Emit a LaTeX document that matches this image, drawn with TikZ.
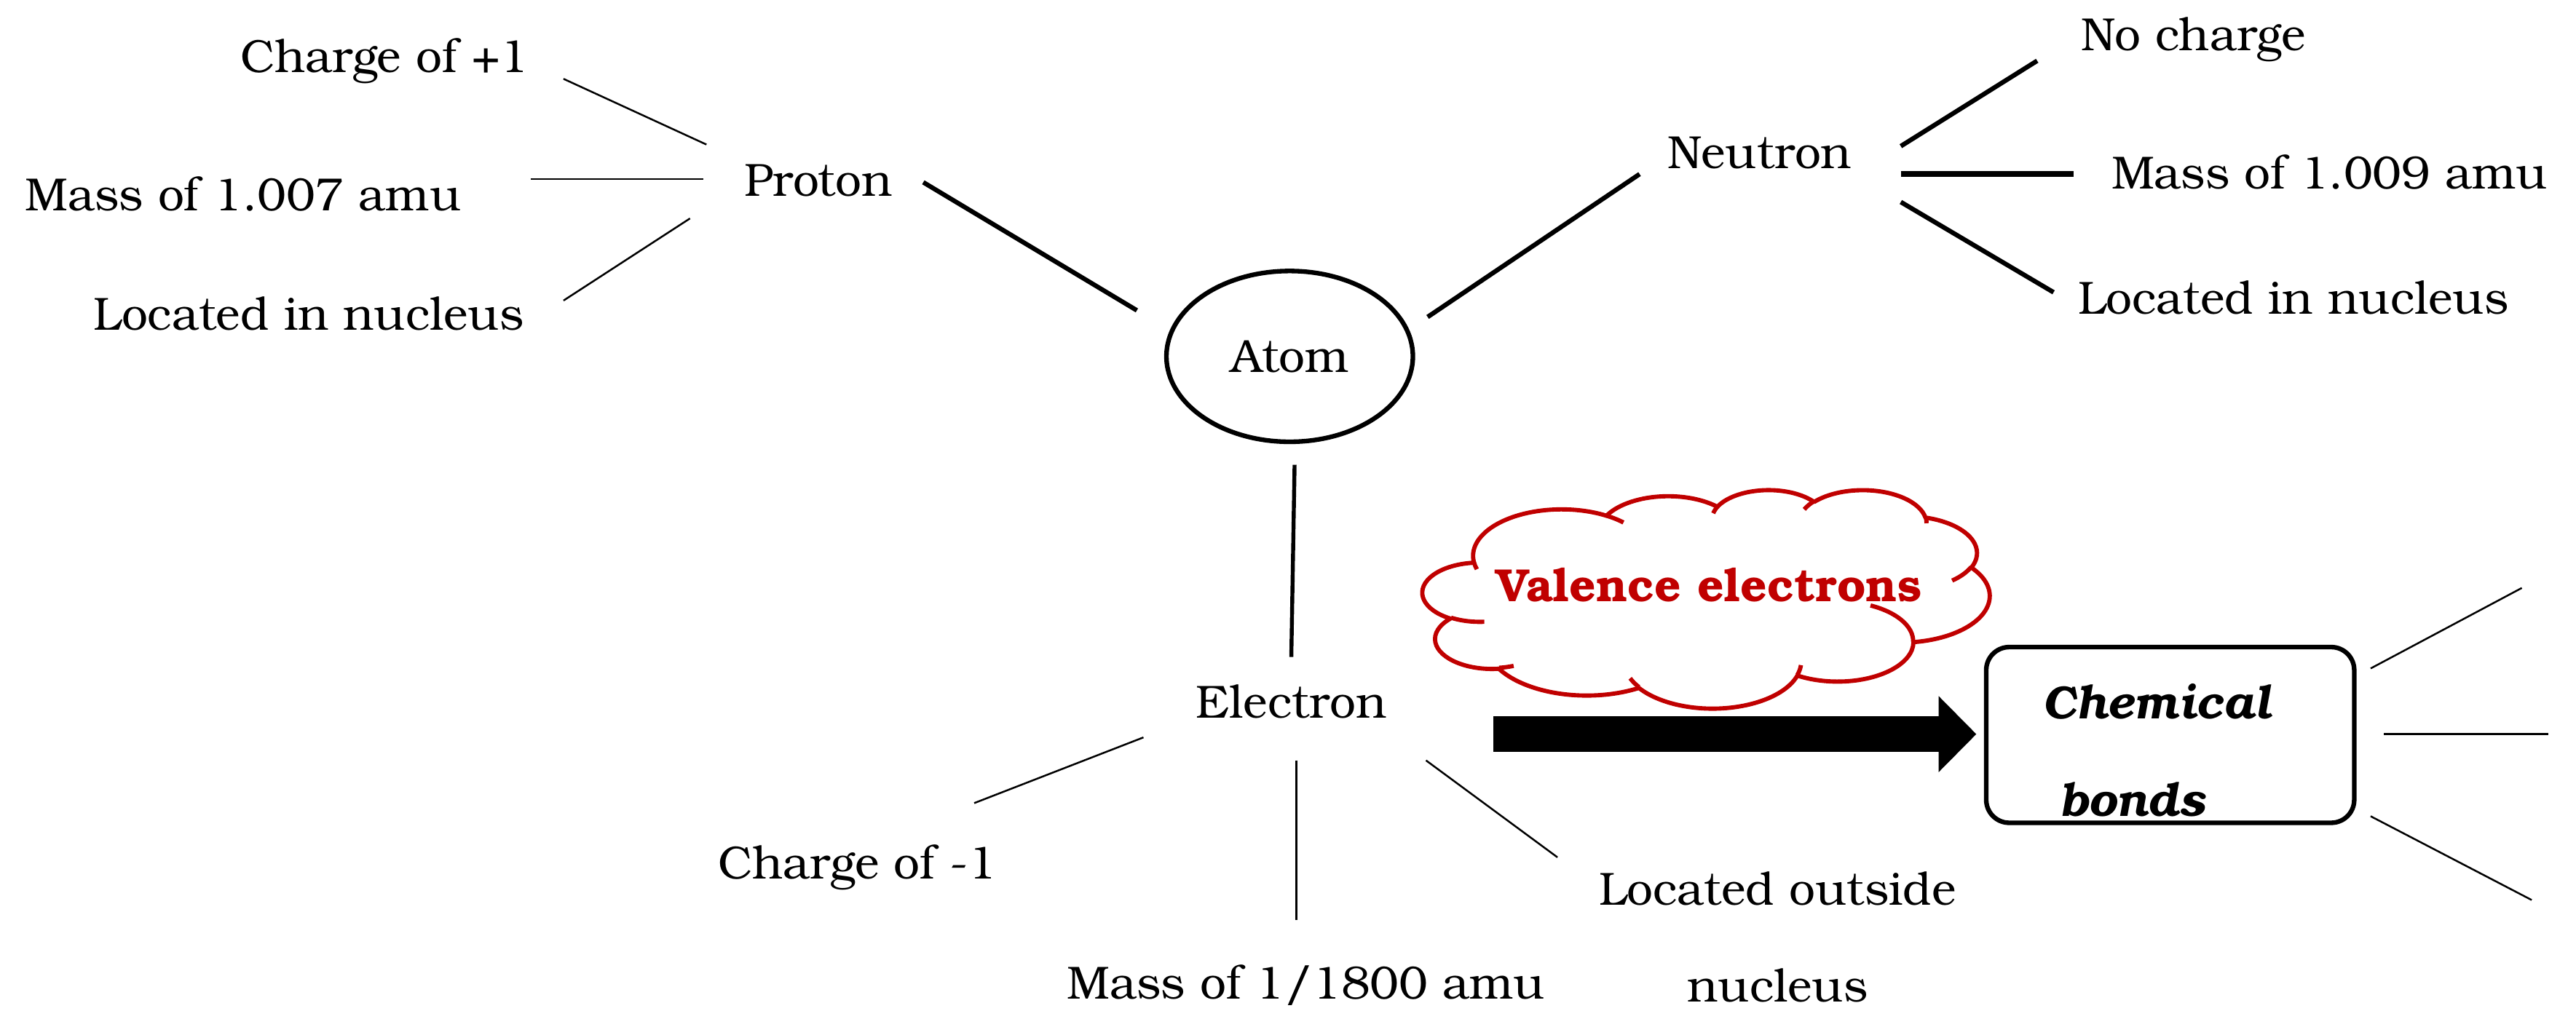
\documentclass[tikz,border=0pt]{standalone}
\usepackage{fontspec}
\setmainfont{TeX Gyre Bonum}
\usetikzlibrary{shapes.geometric,arrows.meta}
\definecolor{vred}{RGB}{192,0,0}
% elliptical arc given with visual start angle and sweep (as in DrawingML)
\newcommand\cldarc[4]{arc[start angle={atan2((#1)*sin(#3),(#2)*cos(#3))}, delta angle={mod(atan2((#1)*sin((#3)+(#4)),(#2)*cos((#3)+(#4)))-atan2((#1)*sin(#3),(#2)*cos(#3))+720,360)}, x radius=#1, y radius=#2]}
\begin{document}
\begin{tikzpicture}[x=1pt,y=-1pt,
  lbl/.style={font=\fontsize{28.3}{32}\selectfont, inner sep=0pt, anchor=center},
  bfl/.style={font=\fontsize{28.3}{32}\selectfont\bfseries, inner sep=0pt, anchor=center},
  thinln/.style={line width=1.1pt},
  thickln/.style={line width=2.8pt},
  cloudln/.style={draw=vred, line width=2.6pt},
]
\useasboundingbox (0,0) rectangle (1568,630);
% proton side
\node[lbl] (c1) at (234,37) {Charge of +1};
\node[lbl] (m1) at (148,118) {Mass of 1.007 amu};
\node[lbl] (l1) at (188,191) {Located in nucleus};
\node[lbl] (proton) at (498,110) {Proton};
\coordinate (pa1) at (343,48);  \coordinate (pb1) at (430,88);
\coordinate (pa2) at (323,109); \coordinate (pb2) at (428,109);
\coordinate (pa3) at (343,183); \coordinate (pb3) at (420,133);
\draw[thinln] (pa1) -- (pb1);
\draw[thinln] (pa2) -- (pb2);
\draw[thinln] (pa3) -- (pb3);
% atom
\node[lbl, draw, ellipse, line width=2.8pt, minimum width=150, minimum height=104] (atom) at (785,217) {Atom};
\coordinate (ap1) at (562,111); \coordinate (ap2) at (692,189);
\draw[thickln] (ap1) -- (ap2);
\coordinate (an1) at (869,193); \coordinate (an2) at (998,106);
\draw[thickln] (an1) -- (an2);
% neutron side
\node[lbl] (neutron) at (1071,93) {Neutron};
\node[lbl] (nc) at (1335,24) {No charge};
\node[lbl] (nm) at (1418,105) {Mass of 1.009 amu};
\node[lbl] (nl) at (1396,181) {Located in nucleus};
\coordinate (na1) at (1157,89);  \coordinate (nb1) at (1240,37);
\coordinate (na2) at (1157,106); \coordinate (nb2) at (1262,106);
\coordinate (na3) at (1157,123); \coordinate (nb3) at (1250,178);
\draw[thickln] (na1) -- (nb1);
\draw[line width=3.8pt] (na2) -- (nb2);
\draw[thickln] (na3) -- (nb3);
% electron
\node[lbl] (electron) at (786,427) {Electron};
\coordinate (ae1) at (788,283); \coordinate (ae2) at (786,400);
\draw[line width=2.4pt] (ae1) -- (ae2);
\node[lbl] (ec) at (522,528) {Charge of -1};
\node[lbl] (em) at (795,600) {Mass of 1/1800 amu};
\node[lbl] (eo) at (1082,541) {Located outside};
\node[lbl] (en) at (1082,600) {nucleus};
\coordinate (ea1) at (696,449); \coordinate (eb1) at (593,489);
\coordinate (ea2) at (789,463); \coordinate (eb2) at (789,560);
\coordinate (ea3) at (868,463); \coordinate (eb3) at (948,522);
\draw[thinln] (ea1) -- (eb1);
\draw[thinln] (ea2) -- (eb2);
\draw[thinln] (ea3) -- (eb3);
% cloud (DrawingML cloud outline, box 43.2 x 43.2)
\begin{scope}[shift={(866,298)}, xscale=345/43.2, yscale=133/43.2]
\draw[cloudln, line join=round]
  (3.900,14.370) \cldarc{6.753}{9.190}{-190.4875}{123.7805}
  \cldarc{5.333}{7.267}{-144.1024}{89.9452}
  \cldarc{4.365}{5.945}{-145.8079}{99.7230}
  \cldarc{4.857}{6.595}{-130.9861}{117.2417}
  \cldarc{5.333}{7.273}{-78.7089}{109.0269}
  \cldarc{6.775}{9.220}{-46.2673}{130.2690}
  \cldarc{5.785}{7.867}{0.6250}{114.0333}
  \cldarc{6.752}{9.215}{22.4516}{115.1726}
  \cldarc{7.720}{10.543}{66.2426}{75.7110}
  \cldarc{4.360}{5.918}{-274.9421}{146.7356}
  \cldarc{4.345}{5.945}{-246.8285}{152.5189}
  -- cycle;
\draw[cloudln]
  (4.693,26.177) \cldarc{4.345}{5.945}{86.7420}{26.4295}
  (6.928,34.899) \cldarc{4.360}{5.918}{73.6105}{11.4475}
  (16.478,39.090) \cldarc{6.752}{9.215}{137.6242}{14.0811}
  (28.827,34.751) \cldarc{6.752}{9.215}{6.4533}{15.9984}
  (34.129,22.954) \cldarc{5.785}{7.867}{-70.2924}{70.9174}
  (41.798,15.354) \cldarc{5.333}{7.273}{30.3180}{27.7515}
  (38.324,5.426) \cldarc{4.857}{6.595}{-13.7443}{14.8589}
  (29.078,3.952) \cldarc{4.857}{6.595}{-149.1815}{18.1954}
  (22.141,4.720) \cldarc{4.365}{5.945}{-163.4943}{17.6864}
  (14.000,5.192) \cldarc{6.753}{9.190}{-66.7070}{12.3194}
  (4.127,15.789) \cldarc{6.753}{9.190}{157.6544}{11.8582};
\end{scope}
\node[bfl, text=vred] (val) at (1040,356) {Valence electrons};
% chemical bonds box
\node[draw, rounded corners=14pt, line width=2.8pt, minimum width=224, minimum height=107, inner sep=0pt] (box) at (1321,447.5) {};
\node[bfl, font=\fontsize{28.3}{32}\selectfont\bfseries\itshape] (chem) at (1313,427) {Chemical};
\node[bfl, font=\fontsize{28.3}{32}\selectfont\bfseries\itshape] (bonds) at (1298,487) {bonds};
% big arrow
\coordinate (arrS) at (909,447);
\coordinate (arrE) at (1203,447);
\draw[line width=22pt, -{Triangle[length=23pt 0 0, width=45pt 0 0]}] (arrS) -- (arrE);
% right lines
\coordinate (ba1) at (1443,407); \coordinate (bb1) at (1535,358);
\coordinate (ba2) at (1451,447); \coordinate (bb2) at (1551,447);
\coordinate (ba3) at (1443,497); \coordinate (bb3) at (1541,548);
\draw[thinln] (ba1) -- (bb1);
\draw[thinln] (ba2) -- (bb2);
\draw[thinln] (ba3) -- (bb3);
\end{tikzpicture}
\end{document}
